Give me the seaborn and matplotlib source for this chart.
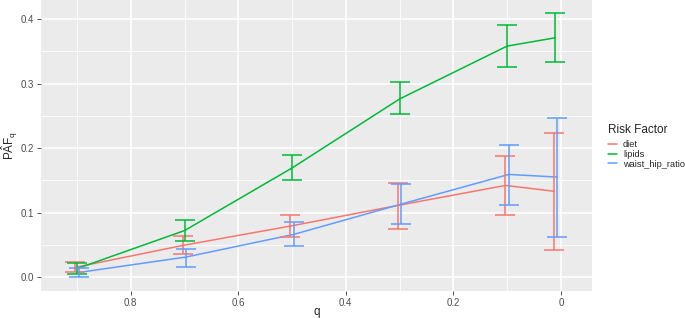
import numpy as np
import pandas as pd
import matplotlib
matplotlib.use("Agg")
import matplotlib.pyplot as plt
import seaborn as sns
from matplotlib.lines import Line2D

q_values = [0.9, 0.7, 0.5, 0.3, 0.1, 0.01]

diet_est = [0.015, 0.049, 0.079, 0.111, 0.142, 0.133]
diet_lo = [0.007, 0.035, 0.0625, 0.075, 0.096, 0.042]
diet_hi = [0.024, 0.064, 0.096, 0.146, 0.188, 0.224]

lipids_est = [0.013, 0.072, 0.169, 0.276, 0.358, 0.371]
lipids_lo = [0.005, 0.056, 0.150, 0.252, 0.326, 0.333]
lipids_hi = [0.021, 0.088, 0.189, 0.302, 0.391, 0.409]

whr_est = [0.007, 0.031, 0.066, 0.113, 0.159, 0.155]
whr_lo = [0.000, 0.016, 0.048, 0.082, 0.112, 0.062]
whr_hi = [0.0135, 0.043, 0.085, 0.144, 0.205, 0.246]

factors = ['diet', 'lipids', 'waist_hip_ratio']
colors = {'diet': '#F8766D', 'lipids': '#00BA38', 'waist_hip_ratio': '#619CFF'}
dodge = {'diet': 0.003, 'lipids': 0.0, 'waist_hip_ratio': -0.003}

rows = []
for f, est, lo, hi in [('diet', diet_est, diet_lo, diet_hi),
                       ('lipids', lipids_est, lipids_lo, lipids_hi),
                       ('waist_hip_ratio', whr_est, whr_lo, whr_hi)]:
    for q, e, l, h in zip(q_values, est, lo, hi):
        rows.append({'factor': f, 'q': q + dodge[f], 'est': e, 'lo': l, 'hi': h})
df = pd.DataFrame(rows)

sns.set_theme(style='darkgrid', rc={
    'axes.facecolor': '#EBEBEB',
    'grid.color': 'white',
    'axes.edgecolor': '#EBEBEB',
})
plt.rcParams['font.family'] = ['Liberation Sans', 'DejaVu Sans']
plt.rcParams['mathtext.fontset'] = 'custom'
plt.rcParams['mathtext.rm'] = 'Liberation Sans'
plt.rcParams['mathtext.it'] = 'Liberation Sans:italic'

fig = plt.figure(figsize=(6.85, 3.18), dpi=100)
ax = fig.add_axes([41 / 685, 1 - 291 / 318, (592 - 41) / 685, 291 / 318])

sns.lineplot(data=df, x='q', y='est', hue='factor', palette=colors,
             hue_order=factors, ax=ax, legend=False, linewidth=1.1,
             sort=True, estimator=None)

for f in factors:
    sub = df[df['factor'] == f]
    ax.errorbar(sub['q'], sub['est'],
                yerr=[sub['est'] - sub['lo'], sub['hi'] - sub['est']],
                fmt='none', ecolor=colors[f], elinewidth=1.1,
                capsize=7, capthick=1.1)

ax.set_xlim(0.967, -0.058)
ax.set_ylim(-0.0217, 0.4295)

ax.set_xticks([0.8, 0.6, 0.4, 0.2, 0.0])
ax.set_xticklabels(['0.8', '0.6', '0.4', '0.2', '0'])
ax.set_xticks([0.9, 0.7, 0.5, 0.3, 0.1], minor=True)
ax.set_yticks([0.0, 0.1, 0.2, 0.3, 0.4])
ax.set_yticklabels(['0.0', '0.1', '0.2', '0.3', '0.4'])
ax.set_yticks([0.05, 0.15, 0.25, 0.35], minor=True)

ax.grid(which='major', color='white', linewidth=1.1)
ax.grid(which='minor', color='white', linewidth=0.55)
ax.tick_params(which='major', direction='out', length=3, width=0.6,
               color='#333333', labelsize=7, labelcolor='#4D4D4D', pad=2,
               bottom=True, left=True)
ax.tick_params(which='minor', length=0)
for s in ax.spines.values():
    s.set_visible(False)

ax.set_xlabel('q', fontsize=8.5)
ax.xaxis.set_label_coords(0.5, -(306 - 291) / 291)
ax.set_ylabel(r'$\mathrm{P}\hat{\mathrm{A}}\mathrm{F}_{\mathrm{q}}$', fontsize=8.5)
ax.yaxis.set_label_coords(-(41 - 20) / 551, 0.5)

handles = [Line2D([0], [0], color=colors[f], lw=1.1) for f in factors]
leg = fig.legend(handles, factors, title='Risk Factor', loc='upper left',
                 bbox_to_anchor=(604 / 685, 1 - 120 / 318), frameon=False,
                 fontsize=6.7, title_fontsize=8.5, handlelength=1.05,
                 handletextpad=0.6, labelspacing=0.1, borderaxespad=0)
leg._legend_box.align = 'left'
leg._legend_box.sep = 3

fig.savefig('out.png', dpi=100)
